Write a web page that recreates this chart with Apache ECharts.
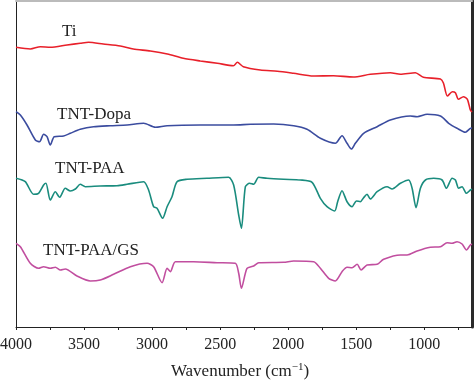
<!DOCTYPE html>
<html>
<head>
<meta charset="utf-8">
<script src="https://cdn.jsdelivr.net/npm/echarts@6/dist/echarts.min.js"></script>
<style>html,body{margin:0;padding:0;background:#fff}#c{width:474px;height:382px}</style>
</head>
<body>
<div id="c"></div>
<script>
// Wavenumber (cm-1) and offset transmittance (a.u.)
const tiW   = [4000,3895,3821,3748,3625,3528,3467,3359,3234,3138,3013,2888,2771,2646,2521,2403,2374,2330,2205,2080,1962,1815,1668,1522,1397,1250,1176,1066,1007,882,860,831,794,772,750,713,684,662,650];
const tiV   = [279.7,278,280.3,279.7,282,283.7,284.7,283,281,278,276,273,268.7,266,263.7,261.3,264.7,260.3,257,255.7,253.7,251,251.3,250,252.7,254.3,252.7,254.3,249.7,248,244,231,235.3,234.3,227.7,230.3,227.7,217,215];

const dopaW = [4000,3968,3919,3858,3827,3797,3772,3748,3719,3650,3601,3528,3430,3307,3184,3062,2976,2890,2646,2401,2278,2107,1960,1862,1764,1654,1605,1568,1536,1507,1446,1347,1250,1103,1053,980,882,821,760,699,662,650];
const dopaV = [215.3,212,202,187,185.3,192.7,190.3,182,190.3,191,193.7,197.7,200.3,201.3,202,203.7,199.7,201.3,202,202,202.7,203,201.3,197.7,188.7,183.7,191.3,183.7,178,183.7,193.7,200.3,207,211,210.3,212.7,211,203.7,198.7,194.7,198.7,199];

const paaW  = [4000,3932,3871,3834,3797,3780,3748,3711,3680,3638,3601,3564,3528,3491,3381,3258,3184,3062,3026,2989,2964,2923,2890,2854,2817,2744,2597,2438,2401,2364,2344,2315,2284,2254,2217,2156,2034,1911,1825,1764,1715,1659,1637,1605,1568,1531,1499,1470,1446,1421,1397,1347,1274,1237,1176,1115,1090,1061,1029,992,931,870,838,796,772,748,723,691,662,650];
const paaV  = [148.7,145.3,132.7,133.7,142,143.7,127,135.3,129.7,138.7,136,138,142.7,140.3,141,141.3,142.7,145.3,137,120.3,118.7,108.7,120.3,130.3,145.3,147.7,148.7,149.7,142,112,98.7,140.3,143.7,142.7,149.7,148.7,147.7,147,144.7,128.7,120.3,116,125.3,136.3,125.3,120.3,126,125.3,129.3,132.7,128,135.3,140.3,138,143.7,147,138.7,119.3,138.7,147,148.7,147,138.7,148.7,147,138.7,140.3,133.7,137,138];

const gsW   = [4000,3968,3895,3834,3797,3748,3711,3674,3638,3552,3454,3381,3283,3160,3037,2989,2927,2890,2866,2829,2695,2523,2389,2364,2344,2303,2254,2217,2034,1960,1813,1764,1703,1654,1605,1568,1531,1494,1465,1421,1347,1299,1176,1127,1053,956,882,833,796,760,723,691,662,650];
const gsV   = [83.7,80.3,63.7,58.7,60.3,58.7,59.7,57,58,51,46,47,52.7,60.3,63.7,60.3,44.3,58.7,55.3,65.3,65.3,64.3,63.7,53.7,38.7,58.7,61,64.3,64.7,66,65.3,58.7,48.7,46,55.3,59.7,59.3,62.7,57,62,62.7,67.7,72,72,76,79.7,80.3,84.3,83.7,85.3,83,77,82,83];

const xTicks  = [4000,3750,3500,3250,3000,2750,2500,2250,2000,1750,1500,1250,1000,750];
const xLabels = [4000,3500,3000,2500,2000,1500,1000];
const seriesNames = ['Ti','TNT-Dopa','TNT-PAA','TNT-PAA/GS'];

const zip = (a, b) => a.map((w, i) => [w, b[i]]);
const font = 'Liberation Serif';
const chart = echarts.init(document.getElementById('c'), null, {renderer: 'canvas'});
const mk = (name, w, v, color) => ({
  name, type: 'line', data: zip(w, v), showSymbol: false, symbol: 'none',
  smooth: 0.25, lineStyle: {color, width: 1.6}, clip: true, z: 3
});
const lbl = (text, x, y) => ({type: 'text', left: x, top: y,
  style: {text, font: '17px "' + font + '"', fill: '#222'}});

chart.setOption({
  animation: false,
  backgroundColor: '#fff',
  grid: {left: 16, right: 2, top: 1, bottom: 55, containLabel: false, outerBoundsMode: 'none'},
  xAxis: [{
    type: 'value', inverse: true, min: 650, max: 4000,
    axisLine: {show: true, lineStyle: {color: '#222', width: 1}},
    axisTick: {show: true, length: 3, inside: false, customValues: xTicks, lineStyle: {color: '#222'}},
    axisLabel: {customValues: xLabels, color: '#222', fontFamily: font, fontSize: 16, margin: 10,
      formatter: v => String(v), hideOverlap: false, showMinLabel: true, showMaxLabel: true},
    splitLine: {show: false},
    name: 'Wavenumber (cm{sup|−1})', nameLocation: 'middle', nameGap: 35,
    nameTextStyle: {color: '#222', fontFamily: font, fontSize: 17, padding: [0, 8, 0, 0],
      rich: {sup: {fontFamily: font, fontSize: 11, verticalAlign: 'top', padding: [0,0,9,0], color: '#222'}}}
  }, {
    type: 'value', position: 'top', inverse: true, min: 650, max: 4000,
    axisLine: {show: true, onZero: false, lineStyle: {color: '#bbb', width: 2}},
    axisTick: {show: false}, axisLabel: {show: false}, splitLine: {show: false}
  }],
  yAxis: [{
    type: 'value', min: 0, max: 326,
    axisLine: {show: true, lineStyle: {color: '#222', width: 1}},
    axisTick: {show: false}, axisLabel: {show: false}, splitLine: {show: false}
  }, {
    type: 'value', position: 'right', min: 0, max: 326,
    axisLine: {show: true, onZero: false, lineStyle: {color: '#2a2a2a', width: 3}},
    axisTick: {show: false}, axisLabel: {show: false}, splitLine: {show: false}
  }],
  series: [
    mk(seriesNames[0], tiW, tiV, '#e8202a'),
    mk(seriesNames[1], dopaW, dopaV, '#3b4c9f'),
    mk(seriesNames[2], paaW, paaV, '#1a8c7e'),
    mk(seriesNames[3], gsW, gsV, '#c14e9f')
  ],
  graphic: [
    lbl(seriesNames[0], 62, 23),
    lbl(seriesNames[1], 57, 106),
    lbl(seriesNames[2], 55, 160),
    lbl(seriesNames[3], 43, 242)
  ]
});
</script>
</body>
</html>
